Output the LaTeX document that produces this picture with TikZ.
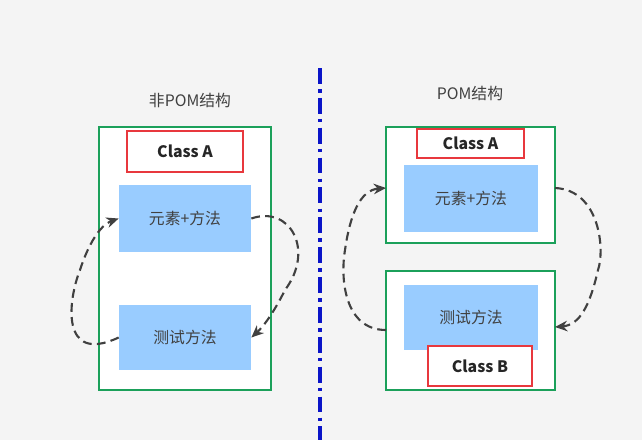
\documentclass[tikz,border=0pt]{standalone}
\usepackage{fontspec}
\setmainfont{Noto Sans CJK SC}
\usetikzlibrary{arrows.meta}
\definecolor{bg}{HTML}{F4F4F4}
\definecolor{gr}{HTML}{1BA05A}
\definecolor{rd}{HTML}{E8383D}
\definecolor{bl}{HTML}{99CCFF}
\definecolor{dv}{HTML}{0A14C8}
\begin{document}
\begin{tikzpicture}[x=0.02cm,y=-0.02cm,
 gbox/.style={draw=gr,line width=1.2pt,fill=white},
 rbox/.style={draw=rd,line width=1.3pt,fill=white,font=\bfseries\fontsize{9}{10}\selectfont,text=black!85},
 bbox/.style={fill=bl,font=\fontsize{9}{10}\selectfont,text=black!75},
 title/.style={font=\fontsize{9}{10}\selectfont,text=black!75},
 flow/.style={dashed,dash pattern=on 5pt off 3pt,line width=1.2pt,draw=black!75,-{Stealth[length=7pt,width=6pt]}}]
\fill[bg] (0,0) rectangle (642,440);
\useasboundingbox (0,0) rectangle (642,440);
% left
\node[title] (t1) at (190,100) {非POM结构};
\draw[gbox] (99,127) rectangle (271,390);
\node[bbox,minimum width=132*0.02cm,minimum height=67*0.02cm] (l1) at (185,218.5) {元素+方法};
\node[bbox,minimum width=132*0.02cm,minimum height=65*0.02cm] (l2) at (185,337.5) {测试方法};
\node[rbox,minimum width=116*0.02cm,minimum height=41*0.02cm] (ca1) at (185,151.5) {Class A};
\draw[flow] (l1.east) .. controls (290,205) and (315,250) .. (285,290) .. controls (275,310) and (265,325) .. (l2.east);
\draw[flow] (l2.west) .. controls (60,365) and (68,300) .. (80,270) .. controls (88,245) and (100,225) .. (l1.west);
% divider
\draw[dv,line width=2.2pt,dash pattern=on 9pt off 3pt on 2pt off 3pt] (320,68) -- (320,440);
% right
\node[title] (t2) at (470,93) {POM结构};
\draw[gbox] (386,127) rectangle (555,243);
\draw[gbox] (386,271) rectangle (555,390);
\node[bbox,minimum width=134*0.02cm,minimum height=67*0.02cm] (r1) at (471,198.5) {元素+方法};
\node[bbox,minimum width=134*0.02cm,minimum height=65*0.02cm] (r2) at (471,317.5) {测试方法};
\node[rbox,minimum width=107*0.02cm,minimum height=29*0.02cm] (ca2) at (470.5,143.5) {Class A};
\node[rbox,minimum width=104*0.02cm,minimum height=40*0.02cm] (cb) at (480,366) {Class B};
\draw[flow] (555,188) .. controls (600,190) and (605,250) .. (598,270) .. controls (590,305) and (580,325) .. (555,327);
\draw[flow] (386,330) .. controls (345,330) and (340,280) .. (345,250) .. controls (350,215) and (360,190) .. (386,188);
\end{tikzpicture}
\end{document}
